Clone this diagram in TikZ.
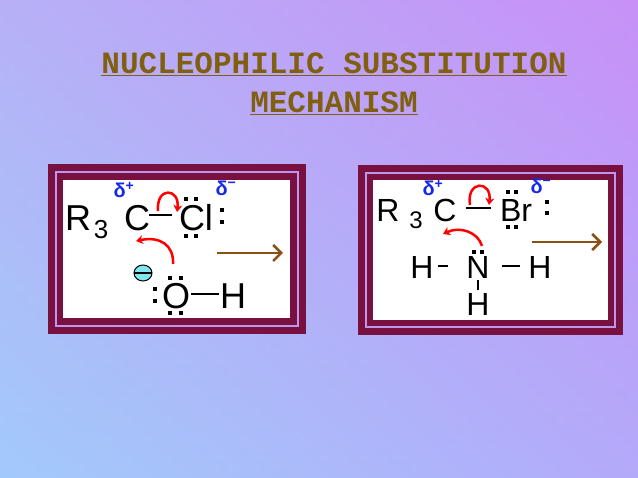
\documentclass[tikz,border=0pt]{standalone}
\usepackage{fontspec}
\setmainfont{Liberation Sans}
\newfontfamily\titlefont{Liberation Mono}
\usetikzlibrary{arrows.meta}
\definecolor{maroon}{RGB}{120,16,64}
\definecolor{lav}{RGB}{190,150,240}
\definecolor{titlec}{RGB}{128,96,16}
\definecolor{brownar}{RGB}{140,80,20}
\definecolor{deltab}{RGB}{20,40,230}
\tikzset{
 chem/.style={inner sep=0pt,font=\fontsize{36}{36}\selectfont},
 chemb/.style={inner sep=0pt,font=\fontsize{32}{32}\selectfont},
 delta/.style={inner sep=0pt,text=deltab,font=\bfseries\fontsize{20}{20}\selectfont},
 ttl/.style={inner sep=0pt,text=titlec,font=\titlefont\bfseries\fontsize{31}{31}\selectfont},
 redar/.style={red,line width=2.5pt,-{Stealth[length=7pt,width=9pt]}},
 brar/.style={brownar,line width=2.5pt,-{Straight Barb[length=8pt,width=16pt]}},
 dot/.style={fill=black,rectangle,inner sep=0pt,minimum size=4.5pt},
 bond/.style={line width=2pt}
}
\begin{document}
\begin{tikzpicture}[x=1pt,y=-1pt]
\useasboundingbox (0,0) rectangle (638,478);
\shade[left color={rgb,255:red,165;green,205;blue,250},right color={rgb,255:red,200;green,140;blue,250}] (0,0) rectangle (638,478);
\shade[top color={rgb,255:red,200;green,150;blue,245},bottom color={rgb,255:red,160;green,200;blue,250},opacity=0.5] (0,0) rectangle (638,478);
% title
\node[ttl] (t1) at (334,64) {\underline{NUCLEOPHILIC SUBSTITUTION}};
\node[ttl] (t2) at (334,103) {\underline{MECHANISM}};
% frames
\fill[maroon] (48,164) rectangle (306,334);
\draw[lav,line width=1.5pt] (56,172) rectangle (298,326);
\fill[white] (63,180) rectangle (290,318);
\fill[maroon] (358,165) rectangle (623,335);
\draw[lav,line width=1.5pt] (366,173) rectangle (615,327);
\fill[white] (373,180) rectangle (608,320);
% box 1
\node[chem] (r1) at (78,218) {R};
\node[chem,font=\fontsize{26}{26}\selectfont] (s1) at (101,230) {3};
\node[chem] (c1) at (137,218) {C};
\draw[bond] (149,215) -- (172,215);
\node[chem] (cl1) at (196,218) {Cl};
\node[dot] (co1a) at (222,210) {}; \node[dot] (co1b) at (222,222) {};
\node[dot] at (186,199) {}; \node[dot] at (196,199) {};
\node[dot] at (186,236) {}; \node[dot] at (196,236) {};
\node[delta] (d1) at (124,190) {δ\textsuperscript{+}};
\node[delta] (d2) at (226,188) {δ\textsuperscript{−}};
\draw[redar] (158,211) .. controls (156,186) and (180,188) .. (177,212);
\draw[redar] (173,264) .. controls (174,245) and (160,236) .. (136,241);
\draw[fill={rgb,255:red,130;green,230;blue,240},line width=1pt] (143,273) ellipse (9 and 8);
\draw[line width=2.5pt] (134,273) -- (152,273);
\node[chem] (o1) at (176,296) {O};
\node[dot] (oca) at (155,289) {}; \node[dot] (ocb) at (155,301) {};
\node[dot] at (170,278) {}; \node[dot] at (181,278) {};
\node[dot] at (170,313) {}; \node[dot] at (181,313) {};
\draw[bond] (191,294) -- (219,294);
\node[chem] (h1) at (233,296) {H};
\draw[brar] (217,253) -- (283,253);
% box 2
\node[chemb] (r2) at (388,210) {R};
\node[chemb,font=\fontsize{24}{24}\selectfont] (s2) at (416,220) {3};
\node[chemb] (c2) at (445,210) {C};
\draw[bond] (466,208) -- (491,208);
\node[chemb] (br) at (516,210) {Br};
\node[dot] (co2a) at (547,202) {}; \node[dot] (co2b) at (547,213) {};
\node[dot] at (508,192) {}; \node[dot] at (516,192) {};
\node[dot] at (508,227) {}; \node[dot] at (516,227) {};
\node[delta] (d3) at (433,188) {δ\textsuperscript{+}};
\node[delta] (d4) at (541,186) {δ\textsuperscript{−}};
\draw[redar] (470,205) .. controls (466,180) and (492,180) .. (489,205);
\draw[redar] (482,246) .. controls (478,232) and (460,226) .. (443,234);
\draw[brar] (532,242) -- (602,242);
\node[chemb] (h2) at (422,267) {H};
\draw[bond] (438,266) -- (448,266);
\node[chemb] (n) at (478,267) {N};
\node[dot] at (474,252) {}; \node[dot] at (482,252) {};
\draw[bond] (502,266) -- (520,266);
\node[chemb] (h3) at (540,267) {H};
\draw[bond] (478,280) -- (478,290);
\node[chemb] (h4) at (478,304) {H};
\end{tikzpicture}
\end{document}
